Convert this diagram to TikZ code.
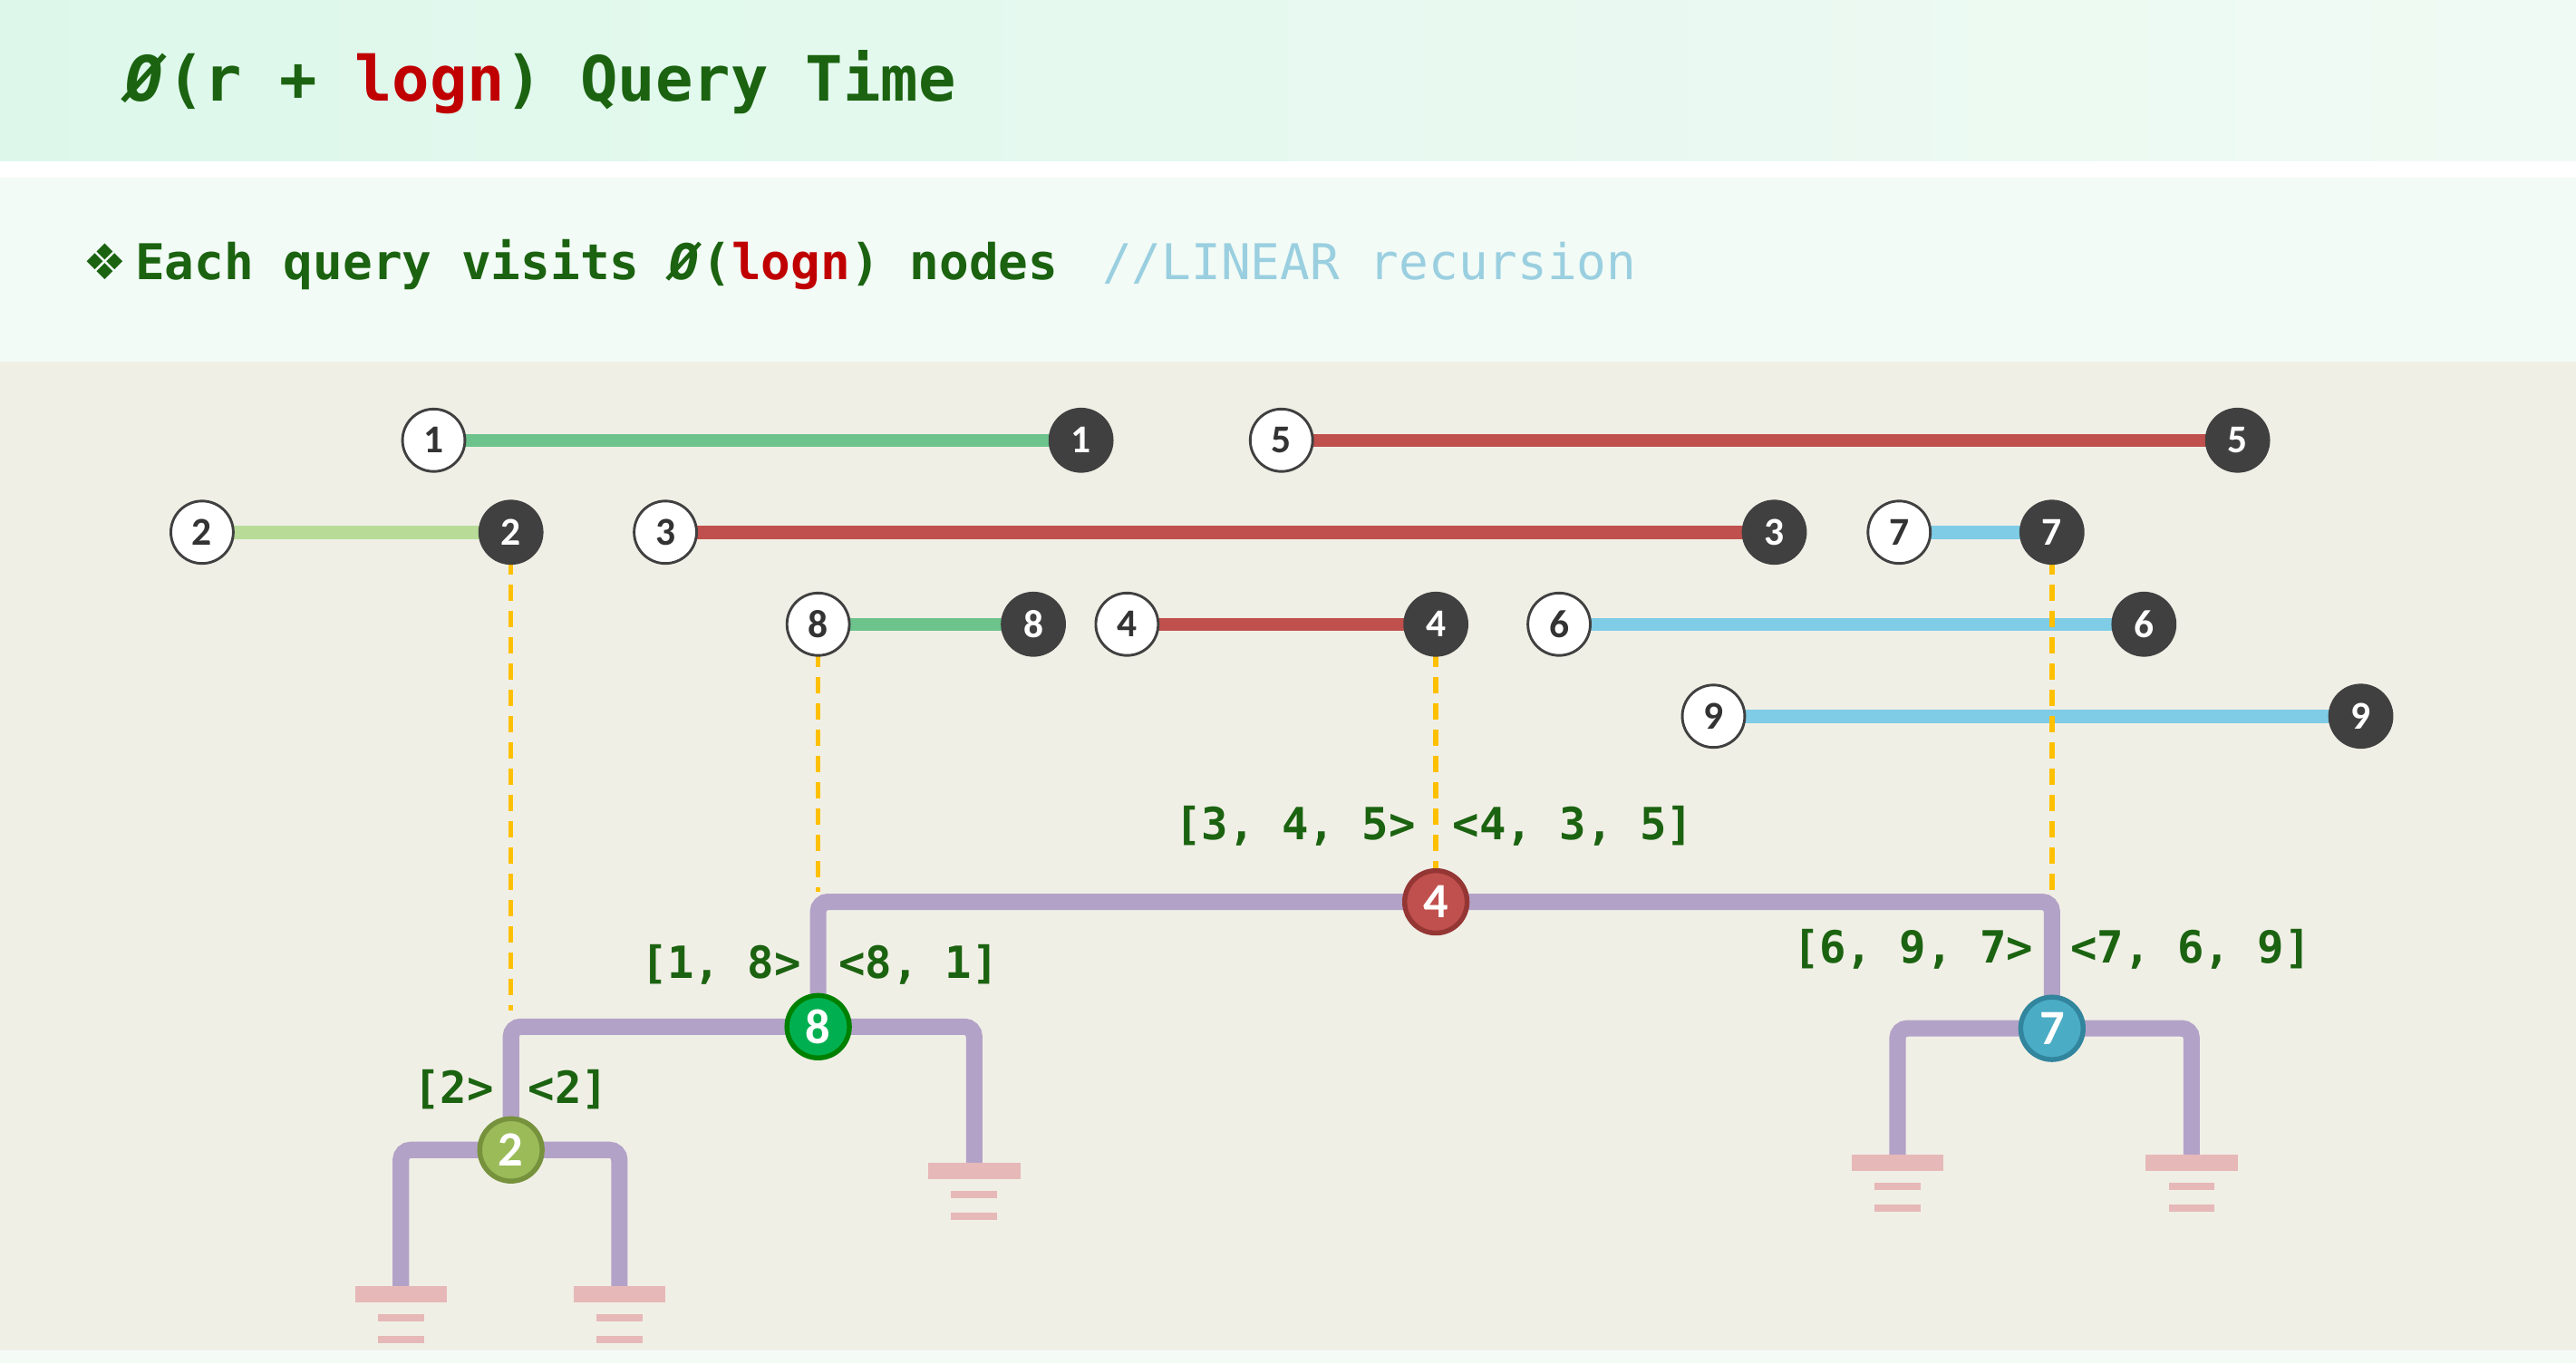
\documentclass[tikz,border=0pt]{standalone}
\usepackage{fontspec}
\setmonofont{DejaVu Sans Mono}
\newfontfamily\lab{Carlito}
\newfontfamily\dvs{DejaVu Sans}
\definecolor{dg}{HTML}{1B6310}
\definecolor{redc}{HTML}{C0504D}
\definecolor{redd}{HTML}{943634}
\definecolor{grn}{HTML}{00B050}
\definecolor{grnd}{HTML}{008000}
\definecolor{blu}{HTML}{4BACC6}
\definecolor{blud}{HTML}{31859C}
\definecolor{olv}{HTML}{9BBB59}
\definecolor{olvd}{HTML}{76923C}
\definecolor{grc}{HTML}{6CC48C}
\definecolor{lgc}{HTML}{B8DC98}
\definecolor{blc}{HTML}{7ECCE6}
\definecolor{treec}{HTML}{B3A2C7}
\definecolor{dashc}{HTML}{FFC000}
\definecolor{gndc}{HTML}{E6B8B7}
\definecolor{cm}{HTML}{9ACFE0}
\definecolor{hdA}{HTML}{DDF8EB}
\definecolor{hdB}{HTML}{F0FAF4}
\definecolor{hdC}{HTML}{F2FBF6}
\definecolor{bgc}{HTML}{F0EFE6}
\definecolor{ft}{HTML}{F4FBF7}
\definecolor{logc}{HTML}{C00000}
\begin{document}
\begin{tikzpicture}[x=0.5pt,y=-0.5pt,
  open/.style={circle,draw=black!75,line width=0.8pt,fill=white,minimum size=19pt,inner sep=0pt,font=\lab\bfseries\fontsize{12}{12}\selectfont,text=black!80},
  full/.style={circle,draw=black!75,line width=0.8pt,fill=black!75,minimum size=19pt,inner sep=0pt,font=\lab\bfseries\fontsize{12}{12}\selectfont,text=white},
  seg/.style={line width=4pt},
  tn/.style={circle,line width=1.5pt,minimum size=19pt,inner sep=0pt,font=\lab\bfseries\fontsize{15}{15}\selectfont,text=white},
  tree/.style={draw=treec,line width=5pt,rounded corners=3pt},
  ydash/.style={draw=dashc,line width=1.5pt,dash pattern=on 5pt off 3pt},
  lbl/.style={font=\ttfamily\bfseries\fontsize{13.5}{13.5}\selectfont,text=dg,inner sep=0pt},
  gnd/.style={fill=gndc,draw=none}]
\useasboundingbox (0,0) rectangle (1568,830);
\shade[left color=hdA,right color=hdB] (0,0) rectangle (1568,98);
\fill[white] (0,98) rectangle (1568,108);
\fill[hdC] (0,108) rectangle (1568,220);
\fill[bgc] (0,220) rectangle (1568,822);
\fill[ft] (0,822) rectangle (1568,830);
\node[anchor=west,inner sep=0pt,font=\ttfamily\bfseries\fontsize{19}{19}\selectfont,text=dg] (title) at (76,50) {\textit{Ø}(r + \textcolor{logc}{logn}) Query Time};
\node[anchor=west,inner sep=0pt,font=\ttfamily\bfseries\fontsize{15}{15}\selectfont,text=dg] (sub) at (50,161) {{\dvs ❖}\,Each query visits \textit{Ø}(\textcolor{logc}{logn}) nodes\hspace{0.9em}\textcolor{cm}{\mdseries //LINEAR recursion}};
% intervals
\coordinate (a1) at (264,268); \coordinate (b1) at (658,268);
\coordinate (a5) at (780,268); \coordinate (b5) at (1362,268);
\coordinate (a2) at (123,324); \coordinate (b2) at (311,324);
\coordinate (a3) at (405,324); \coordinate (b3) at (1080,324);
\coordinate (a7) at (1156,324); \coordinate (b7) at (1249,324);
\coordinate (a8) at (498,380); \coordinate (b8) at (629,380);
\coordinate (a4) at (686,380); \coordinate (b4) at (874,380);
\coordinate (a6) at (949,380); \coordinate (b6) at (1305,380);
\coordinate (a9) at (1043,436); \coordinate (b9) at (1437,436);
\draw[seg,grc] (a1)--(b1); \draw[seg,redc] (a5)--(b5);
\draw[seg,lgc] (a2)--(b2); \draw[seg,redc] (a3)--(b3);
\draw[seg,blc] (a7)--(b7); \draw[seg,grc] (a8)--(b8);
\draw[seg,redc] (a4)--(b4); \draw[seg,blc] (a6)--(b6);
\draw[seg,blc] (a9)--(b9);
% tree
\coordinate (g8) at (593,708);
\coordinate (g2l) at (244,783); \coordinate (g2r) at (377,783);
\coordinate (g7l) at (1155,703); \coordinate (g7r) at (1334,703);
\coordinate (c4) at (874,549); \coordinate (c8) at (498,625);
\coordinate (c7) at (1249,626); \coordinate (c2) at (311,700);
\draw[tree] (c8) |- (c4);
\draw[tree] (c4) -| (c7);
\draw[tree] (c2) |- (c8);
\draw[tree] (c8) -| (g8);
\draw[tree] (c2) -| (g2l);
\draw[tree] (c2) -| (g2r);
\draw[tree] (c7) -| (g7l);
\draw[tree] (c7) -| (g7r);
\foreach \g in {g8,g2l,g2r,g7l,g7r}{
  \fill[gnd] ([xshift=-14pt]\g) rectangle ([xshift=14pt,yshift=-5pt]\g);
  \fill[gnd] ([xshift=-7pt,yshift=-8.5pt]\g) rectangle ([xshift=7pt,yshift=-10.8pt]\g);
  \fill[gnd] ([xshift=-7pt,yshift=-15pt]\g) rectangle ([xshift=7pt,yshift=-17.3pt]\g);
}
\node[tn,fill=redc,draw=redd] (t4) at (c4) {4};
\node[tn,fill=grn,draw=grnd] (t8) at (c8) {8};
\node[tn,fill=blu,draw=blud] (t7) at (c7) {7};
\node[tn,fill=olv,draw=olvd] (t2) at (c2) {2};
% dashed
\coordinate (d2) at (311,615); \coordinate (d8) at (498,543); \coordinate (d7) at (1249,543);
\draw[ydash] (b2) -- (d2);
\draw[ydash] (a8) -- (d8);
\draw[ydash] (b4) -- (t4);
\draw[ydash] (b7) -- (d7);
% interval endpoint nodes
\foreach \i in {1,2,3,4,5,6,7,8,9}{
  \node[open] (o\i) at (a\i) {\i};
  \node[full] (f\i) at (b\i) {\i};
}
% labels
\node[lbl,anchor=east] (l4a) at (862,503) {[3, 4, 5>};
\node[lbl,anchor=west] (l4b) at (884,503) {<4, 3, 5]};
\node[lbl,anchor=east] (l8a) at (488,587) {[1, 8>};
\node[lbl,anchor=west] (l8b) at (510,587) {<8, 1]};
\node[lbl,anchor=east] (l2a) at (301,663) {[2>};
\node[lbl,anchor=west] (l2b) at (321,663) {<2]};
\node[lbl,anchor=east] (l7a) at (1238,578) {[6, 9, 7>};
\node[lbl,anchor=west] (l7b) at (1260,578) {<7, 6, 9]};
\end{tikzpicture}
\end{document}
